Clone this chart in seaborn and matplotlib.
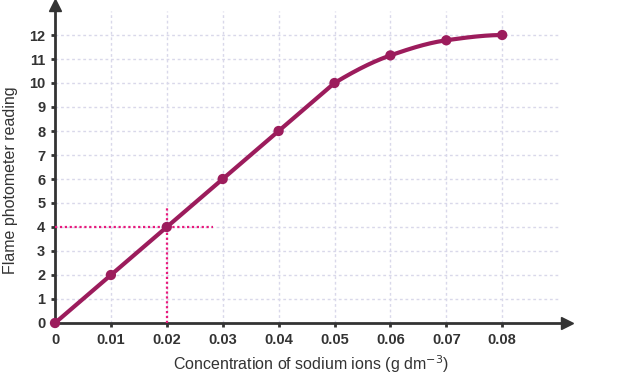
import numpy as np
import pandas as pd
import matplotlib
matplotlib.use("Agg")
import matplotlib.pyplot as plt
import seaborn as sns

# Data
concentration = [0.0, 0.01, 0.02, 0.03, 0.04, 0.05, 0.06, 0.07, 0.08]
reading = [0, 2, 4, 6, 8, 10, 11.15, 11.78, 12]
x_ticks = [0, 0.01, 0.02, 0.03, 0.04, 0.05, 0.06, 0.07, 0.08]
x_tick_labels = ["0", "0.01", "0.02", "0.03", "0.04", "0.05", "0.06", "0.07", "0.08"]
y_ticks = list(range(0, 13))
read_x = 0.02
read_y = 4

sns.set_theme(style="white")
plt.rcParams['font.family'] = ['Liberation Sans', 'DejaVu Sans']

LINE = "#9c1c5c"
PINK = "#e8197c"
GRID = "#d9d8ea"
AX = "#333333"


def pchip(x, y, xs):
    x = np.asarray(x, float); y = np.asarray(y, float)
    h = np.diff(x); delta = np.diff(y) / h
    n = len(x); d = np.zeros(n)
    for k in range(1, n - 1):
        if delta[k - 1] * delta[k] > 0:
            w1 = 2 * h[k] + h[k - 1]; w2 = h[k] + 2 * h[k - 1]
            d[k] = (w1 + w2) / (w1 / delta[k - 1] + w2 / delta[k])
    d[0] = ((2 * h[0] + h[1]) * delta[0] - h[0] * delta[1]) / (h[0] + h[1])
    d[-1] = ((2 * h[-1] + h[-2]) * delta[-1] - h[-1] * delta[-2]) / (h[-1] + h[-2])
    if d[-1] * delta[-1] < 0:
        d[-1] = 0
    out = np.empty_like(xs)
    for i, xv in enumerate(xs):
        k = min(np.searchsorted(x, xv, side="right") - 1, n - 2)
        t = (xv - x[k]) / h[k]
        h00 = 2 * t**3 - 3 * t**2 + 1; h10 = t**3 - 2 * t**2 + t
        h01 = -2 * t**3 + 3 * t**2; h11 = t**3 - t**2
        out[i] = h00 * y[k] + h10 * h[k] * d[k] + h01 * y[k + 1] + h11 * h[k] * d[k + 1]
    return out


fig = plt.figure(figsize=(6.24, 3.75), dpi=100)
ax = fig.add_axes([55 / 624, 52 / 375, 512 / 624, 318 / 375])

xlim = (0, 512 / 55.9 * 0.01)
ylim = (0, 318 / 24.0)
ax.set_xlim(*xlim)
ax.set_ylim(*ylim)

# grid
ax.vlines(x_ticks[1:], 0, 13.0, colors=GRID, linestyles=(0, (2, 2)), linewidth=1, zorder=0)
ax.hlines(y_ticks[1:], 0, 0.0899, colors=GRID, linestyles=(0, (2, 2)), linewidth=1, zorder=0)

# reading lines
ax.hlines(read_y, 0, 0.0283, colors=PINK, linestyles=(0, (1, 1.2)), linewidth=1.6, zorder=2)
ax.vlines(read_x, 0, 4.8, colors=PINK, linestyles=(0, (1, 1.2)), linewidth=1.6, zorder=2)

# straight part up to 0.05, smooth curve afterwards
split = 5
lin = pd.DataFrame({"x": concentration[:split + 1], "y": reading[:split + 1]})
xs = np.linspace(concentration[split], concentration[-1], 200)
curve = pd.DataFrame({"x": xs, "y": pchip(concentration[split:], reading[split:], xs)})
line_df = pd.concat([lin, curve.iloc[1:]], ignore_index=True)
ax.plot(line_df["x"], line_df["y"], color=LINE, linewidth=3, zorder=3,
        solid_joinstyle="round", solid_capstyle="round")
pts = pd.DataFrame({"x": concentration, "y": reading})
sns.scatterplot(data=pts, x="x", y="y", ax=ax, color=LINE, s=55, edgecolor="none", zorder=4)
for c in ax.collections:
    c.set_clip_on(False)

for s in ["top", "right"]:
    ax.spines[s].set_visible(False)
for s in ["left", "bottom"]:
    ax.spines[s].set_color(AX)
    ax.spines[s].set_linewidth(2)
    ax.spines[s].set_zorder(1)

ax.plot([1], [0], marker=">", color=AX, markersize=8, transform=ax.transAxes, clip_on=False)
ax.plot([0], [1], marker="^", color=AX, markersize=8, transform=ax.transAxes, clip_on=False)

ax.set_xticks(x_ticks)
ax.set_xticklabels(x_tick_labels)
ax.set_yticks(y_ticks)
ax.set_yticklabels([str(v) for v in y_ticks])
ax.tick_params(axis="both", which="major", direction="out", length=3, width=2,
               color=AX, labelsize=10.5, labelcolor=AX, bottom=True, left=True, pad=4)
for lbl in ax.get_xticklabels() + ax.get_yticklabels():
    lbl.set_fontweight("bold")

ax.set_xlabel("Concentration of sodium ions (g dm$^{-3}$)", fontsize=11.5, color="#333333")
ax.set_ylabel("Flame photometer reading", fontsize=11.5, color="#333333")
ax.xaxis.set_label_coords(0.5, -0.095)
ax.yaxis.set_label_coords(-0.072, 0.45)

fig.savefig("out.png", dpi=100)
